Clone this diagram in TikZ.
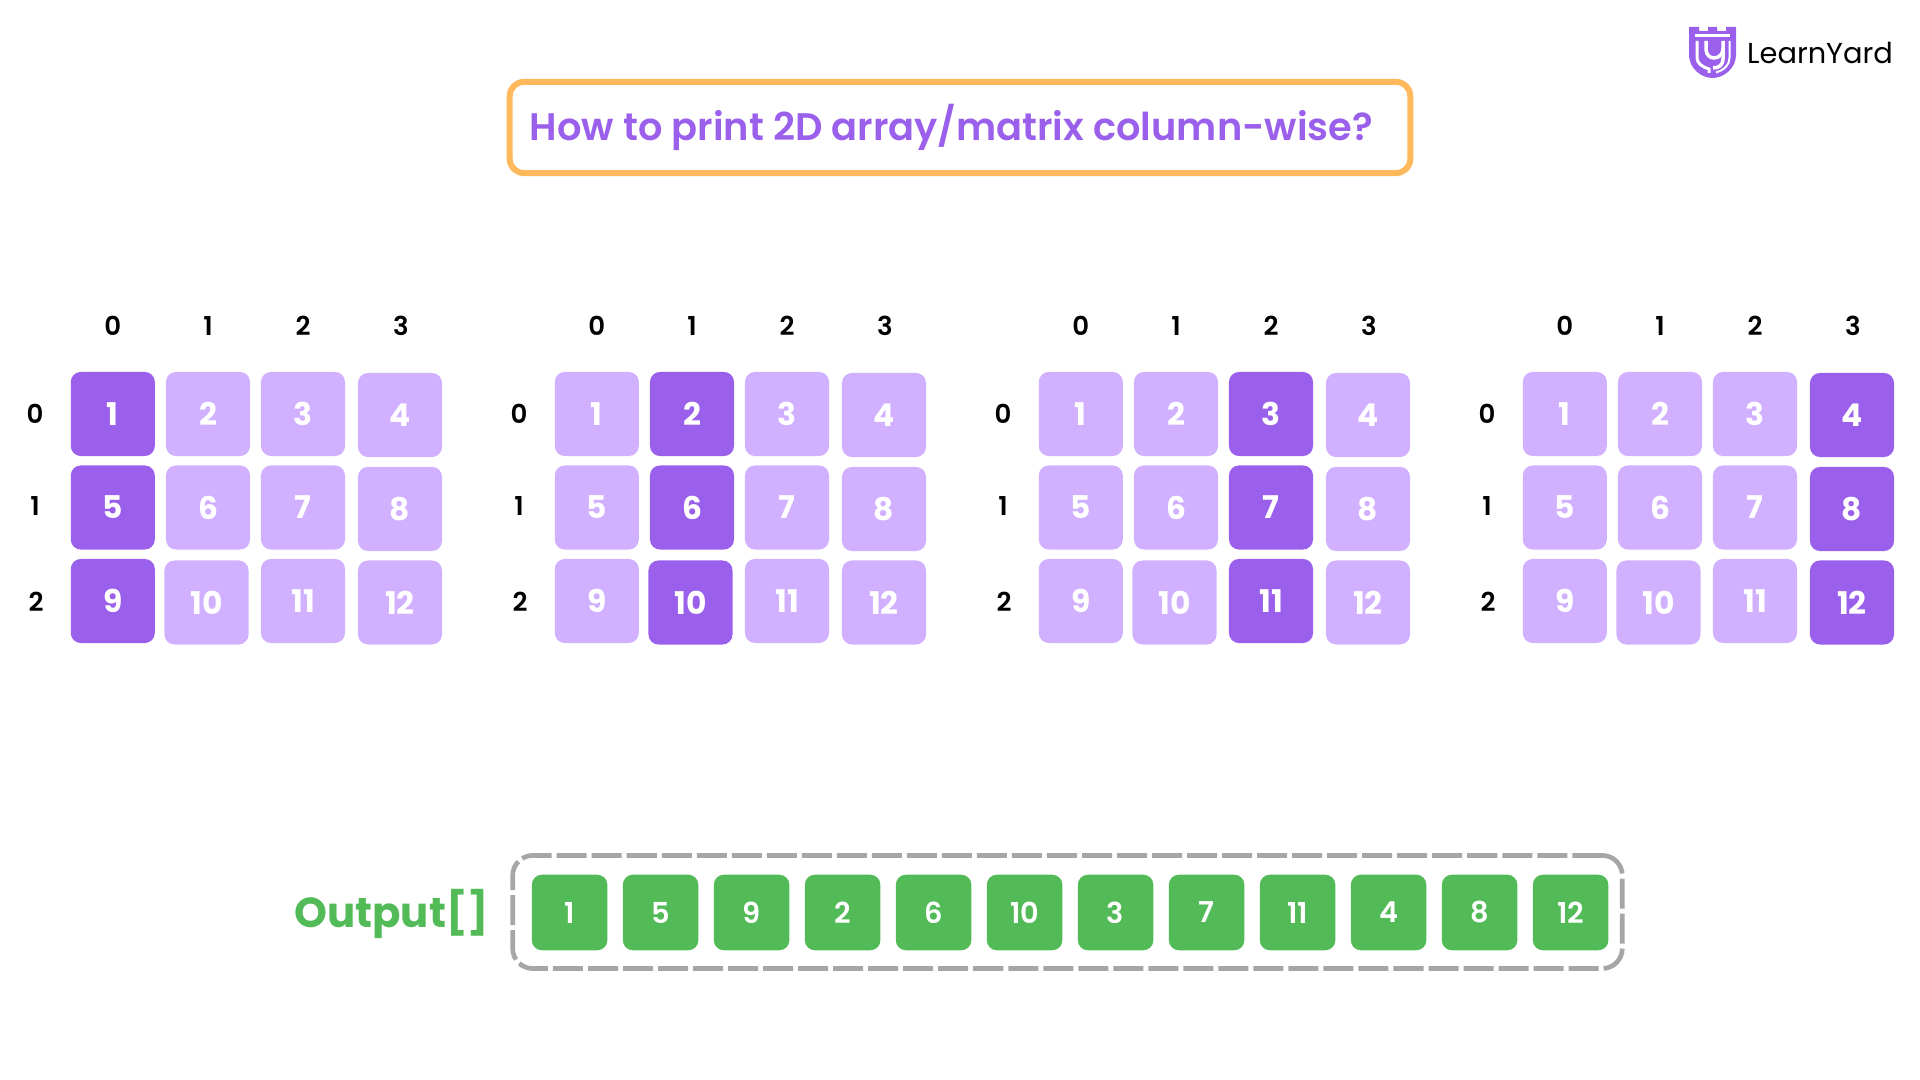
\documentclass[tikz,border=0pt]{standalone}
\usepackage{fontspec}
\setmainfont{Poppins}[BoldFont=* Bold]
\newfontfamily\semifont{Poppins SemiBold}
\definecolor{darkcell}{HTML}{9A5FEB}
\definecolor{lightcell}{HTML}{D0B0FF}
\definecolor{outgreen}{HTML}{52BB58}
\definecolor{dashgray}{HTML}{A6A6A6}
\definecolor{titleedge}{HTML}{FFB95C}
\tikzset{
    cell/.style={rounded corners=0.1cm, minimum size=0.84cm, inner sep=0pt, text=white, font=\fontsize{8.9pt}{10pt}\selectfont\bfseries},
    lightbox/.style={cell, fill=lightcell},
    darkbox/.style={cell, fill=darkcell},
    outbox/.style={cell, fill=outgreen, minimum size=0.755cm, font=\fontsize{8.2pt}{10pt}\semifont},
    idx/.style={inner sep=0pt, font=\fontsize{7.4pt}{9pt}\semifont}
}
\begin{document}
\begin{tikzpicture}[x=0.01cm, y=-0.01cm]
    \useasboundingbox (0, 0) rectangle (1920, 1080);

    \node (title) at (960, 127.5) [draw=titleedge, line width=0.06cm, rounded corners=0.14cm, text width=8.6cm, align=flush left, minimum height=0.91cm, text=darkcell, inner xsep=0.2cm, inner ysep=0pt, font=\fontsize{10.9pt}{13pt}\semifont] {How to print 2D array/matrix column-wise?};

    % the four grids
    \foreach \grp/\off/\hot in {a/0/1, b/484/2, c/968/3, d/1452/4} {
        \foreach \col/\xpos in {1/112.8, 2/208, 3/303, 4/401} {
            \node[idx] (\grp top\col) at (\xpos+\off, 326) {\the\numexpr\col-1\relax};
        }
        \foreach \row/\xpos/\ypos in {0/35/413.5, 1/35/506, 2/36/601.5} {
            \node[idx] (\grp side\row) at (\xpos+\off, \ypos) {\row};
        }
        \foreach \num/\col/\xpos/\ypos in {
            1/1/112.8/414, 2/2/208/414, 3/3/303/414, 4/4/400/415,
            5/1/112.8/507.5, 6/2/208/507.5, 7/3/303/507.5, 8/4/400/509,
            9/1/112.8/601, 10/2/206.5/602.5, 11/3/303/601, 12/4/400/602.5} {
            \ifnum\col=\hot
                \node[darkbox] (\grp\num) at (\xpos+\off, \ypos) {\num};
            \else
                \node[lightbox] (\grp\num) at (\xpos+\off, \ypos) {\num};
            \fi
        }
    }

    % output row
    \node (label) at (391.5, 914) [text=outgreen, inner sep=0pt, font=\fontsize{11.9pt}{14pt}\selectfont\bfseries] {Output[]};
    \node (frame) at (1067.5, 912) [draw=dashgray, line width=0.047cm, dash pattern=on 0.3cm off 0.05cm, rounded corners=0.2cm, minimum width=11.09cm, minimum height=1.13cm, inner sep=0pt] {};
    \foreach \num [count=\i from 0] in {1, 5, 9, 2, 6, 10, 3, 7, 11, 4, 8, 12} {
        \node[outbox] (out\i) at (569.6+91*\i, 912.5) {\num};
    }

    % logo
    \fill[darkcell] (1689, 27) -- (1699, 27) -- (1699, 31) -- (1708, 31) -- (1708, 27) -- (1717, 27) -- (1717, 31) -- (1726, 31) -- (1726, 27) -- (1736, 27) -- (1736, 55) .. controls (1736, 68) and (1724, 78) .. (1712.5, 78) .. controls (1701, 78) and (1689, 68) .. (1689, 55) -- cycle;
    \draw[white, line width=0.03cm] (1695, 36) -- (1730, 36);
    \draw[white, line width=0.03cm] (1697, 41) -- (1697, 58) .. controls (1697, 63) and (1702, 67) .. (1709, 69) -- (1709, 73);
    \draw[white, line width=0.035cm] (1706, 41) -- (1706, 49) .. controls (1706, 55) and (1710, 58) .. (1714, 58) .. controls (1718, 58) and (1723, 55) .. (1723, 49);
    \draw[white, line width=0.035cm] (1723, 41) -- (1723, 59) .. controls (1723, 65) and (1719, 68) .. (1713, 68);
    \draw[white, line width=0.02cm] (1729.5, 41) -- (1729.5, 58) .. controls (1729.5, 65) and (1724, 70) .. (1716, 72.5);
    \node (brand) at (1820, 53) [inner sep=0pt, font=\fontsize{8.2pt}{10pt}\selectfont] {LearnYard};
\end{tikzpicture}
\end{document}
